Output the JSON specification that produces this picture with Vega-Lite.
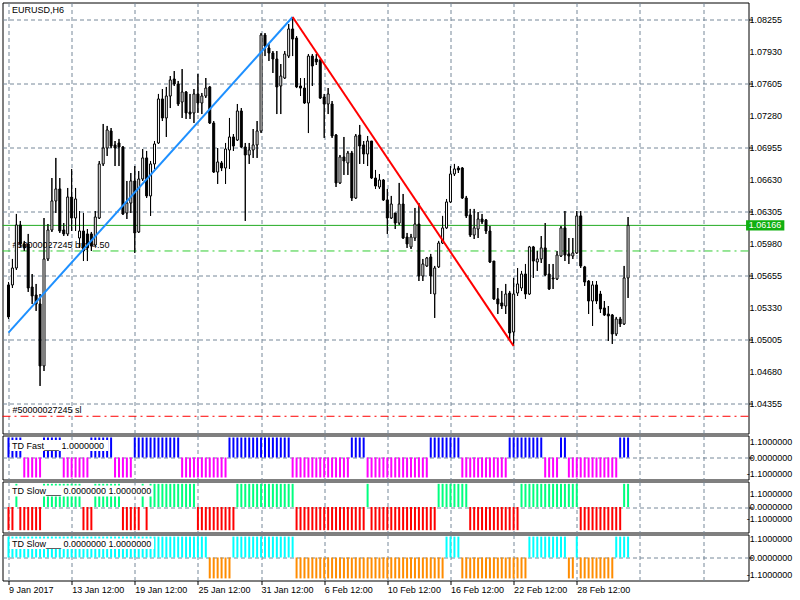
{
  "$schema": "https://vega.github.io/schema/vega-lite/v6.json",
  "background": "white",
  "padding": {"left": 1.5, "top": 1.5, "right": 0, "bottom": 0},
  "spacing": 2,
  "bounds": "flush",
  "config": {
    "font": "Liberation Sans",
    "view": {"stroke": "black", "strokeWidth": 1},
    "axis": {"labelFont": "Liberation Sans", "labelFontSize": 9, "labelColor": "black", "gridColor": "#778899", "gridDash": [4, 3], "gridWidth": 1, "gridOpacity": 1, "tickColor": "black", "domain": false, "title": null, "labelOverlap": false, "labelBound": false},
    "text": {"font": "Liberation Sans", "fontSize": 9}
  },
  "datasets": {
    "candles": [
      {"i":0,"o":1.05561,"h":1.05591,"l":1.05215,"c":1.05236},
      {"i":1,"o":1.05561,"h":1.05825,"l":1.05530,"c":1.05733},
      {"i":2,"o":1.05733,"h":1.06282,"l":1.05713,"c":1.06170},
      {"i":3,"o":1.06170,"h":1.06211,"l":1.05947,"c":1.05977},
      {"i":4,"o":1.05977,"h":1.06008,"l":1.05906,"c":1.05937},
      {"i":5,"o":1.05977,"h":1.06079,"l":1.05490,"c":1.05530},
      {"i":6,"o":1.05540,"h":1.05672,"l":1.05368,"c":1.05449},
      {"i":7,"o":1.05459,"h":1.05571,"l":1.05297,"c":1.05368},
      {"i":8,"o":1.05368,"h":1.05469,"l":1.04535,"c":1.04738},
      {"i":9,"o":1.04738,"h":1.06241,"l":1.04687,"c":1.05825},
      {"i":10,"o":1.05825,"h":1.06180,"l":1.05804,"c":1.06119},
      {"i":11,"o":1.06119,"h":1.06647,"l":1.06099,"c":1.06414},
      {"i":12,"o":1.06414,"h":1.06851,"l":1.06292,"c":1.06536},
      {"i":13,"o":1.06536,"h":1.06647,"l":1.06089,"c":1.06109},
      {"i":14,"o":1.06119,"h":1.06190,"l":1.06058,"c":1.06079},
      {"i":15,"o":1.06079,"h":1.06546,"l":1.06058,"c":1.06454},
      {"i":16,"o":1.06454,"h":1.06739,"l":1.06109,"c":1.06241},
      {"i":17,"o":1.06241,"h":1.06546,"l":1.06109,"c":1.06434},
      {"i":18,"o":1.06038,"h":1.06312,"l":1.05937,"c":1.06109},
      {"i":19,"o":1.06109,"h":1.06292,"l":1.05804,"c":1.05906},
      {"i":20,"o":1.06079,"h":1.06129,"l":1.05804,"c":1.05937},
      {"i":21,"o":1.06079,"h":1.06099,"l":1.05906,"c":1.05957},
      {"i":22,"o":1.05967,"h":1.06312,"l":1.05957,"c":1.06251},
      {"i":23,"o":1.06241,"h":1.06820,"l":1.06231,"c":1.06790},
      {"i":24,"o":1.06790,"h":1.07196,"l":1.06769,"c":1.06952},
      {"i":25,"o":1.06952,"h":1.07176,"l":1.06871,"c":1.07135},
      {"i":26,"o":1.07125,"h":1.07155,"l":1.06952,"c":1.06972},
      {"i":27,"o":1.06983,"h":1.07023,"l":1.06769,"c":1.06952},
      {"i":28,"o":1.07003,"h":1.07044,"l":1.06769,"c":1.06962},
      {"i":29,"o":1.06962,"h":1.06972,"l":1.06272,"c":1.06282},
      {"i":30,"o":1.06292,"h":1.06617,"l":1.06231,"c":1.06393},
      {"i":31,"o":1.06393,"h":1.06698,"l":1.06292,"c":1.06617},
      {"i":32,"o":1.06617,"h":1.06769,"l":1.05886,"c":1.06089},
      {"i":33,"o":1.06099,"h":1.06718,"l":1.06089,"c":1.06637},
      {"i":34,"o":1.06637,"h":1.06942,"l":1.06617,"c":1.06851},
      {"i":35,"o":1.06851,"h":1.06922,"l":1.06444,"c":1.06465},
      {"i":36,"o":1.06465,"h":1.06820,"l":1.06262,"c":1.06790},
      {"i":37,"o":1.06790,"h":1.07023,"l":1.06739,"c":1.06993},
      {"i":38,"o":1.07003,"h":1.07501,"l":1.06993,"c":1.07450},
      {"i":39,"o":1.07450,"h":1.07551,"l":1.07226,"c":1.07257},
      {"i":40,"o":1.07257,"h":1.07572,"l":1.07064,"c":1.07480},
      {"i":41,"o":1.07480,"h":1.07683,"l":1.07358,"c":1.07643},
      {"i":42,"o":1.07653,"h":1.07734,"l":1.07582,"c":1.07602},
      {"i":43,"o":1.07602,"h":1.07633,"l":1.07379,"c":1.07399},
      {"i":44,"o":1.07419,"h":1.07754,"l":1.07257,"c":1.07521},
      {"i":45,"o":1.07521,"h":1.07531,"l":1.07247,"c":1.07308},
      {"i":46,"o":1.07318,"h":1.07501,"l":1.07247,"c":1.07297},
      {"i":47,"o":1.07308,"h":1.07551,"l":1.07206,"c":1.07501},
      {"i":48,"o":1.07501,"h":1.07704,"l":1.07308,"c":1.07409},
      {"i":49,"o":1.07409,"h":1.07511,"l":1.07297,"c":1.07480},
      {"i":50,"o":1.07480,"h":1.07663,"l":1.07460,"c":1.07561},
      {"i":51,"o":1.07572,"h":1.07582,"l":1.07196,"c":1.07206},
      {"i":52,"o":1.07206,"h":1.07226,"l":1.06698,"c":1.06708},
      {"i":53,"o":1.06708,"h":1.06952,"l":1.06587,"c":1.06810},
      {"i":54,"o":1.06800,"h":1.06820,"l":1.06718,"c":1.06749},
      {"i":55,"o":1.06749,"h":1.07003,"l":1.06587,"c":1.06942},
      {"i":56,"o":1.06932,"h":1.07257,"l":1.06739,"c":1.07064},
      {"i":57,"o":1.07064,"h":1.07094,"l":1.06922,"c":1.06972},
      {"i":58,"o":1.07033,"h":1.07399,"l":1.07023,"c":1.07328},
      {"i":59,"o":1.07328,"h":1.07358,"l":1.06952,"c":1.06962},
      {"i":60,"o":1.06962,"h":1.07003,"l":1.06211,"c":1.06881},
      {"i":61,"o":1.06881,"h":1.07003,"l":1.06790,"c":1.06932},
      {"i":62,"o":1.06932,"h":1.07145,"l":1.06851,"c":1.06983},
      {"i":63,"o":1.06983,"h":1.07226,"l":1.06851,"c":1.07125},
      {"i":64,"o":1.07125,"h":1.08120,"l":1.07104,"c":1.08100},
      {"i":65,"o":1.08100,"h":1.08120,"l":1.07886,"c":1.07988},
      {"i":66,"o":1.07968,"h":1.08008,"l":1.07836,"c":1.07917},
      {"i":67,"o":1.07917,"h":1.07937,"l":1.07714,"c":1.07856},
      {"i":68,"o":1.07856,"h":1.07937,"l":1.07297,"c":1.07572},
      {"i":69,"o":1.07582,"h":1.07805,"l":1.07297,"c":1.07683},
      {"i":70,"o":1.07663,"h":1.07937,"l":1.07653,"c":1.07907},
      {"i":71,"o":1.07886,"h":1.08211,"l":1.07866,"c":1.08161},
      {"i":72,"o":1.08161,"h":1.08283,"l":1.07886,"c":1.08059},
      {"i":73,"o":1.08069,"h":1.08089,"l":1.07561,"c":1.07572},
      {"i":74,"o":1.07582,"h":1.07663,"l":1.07480,"c":1.07561},
      {"i":75,"o":1.07561,"h":1.07663,"l":1.07399,"c":1.07409},
      {"i":76,"o":1.07409,"h":1.07907,"l":1.07104,"c":1.07886},
      {"i":77,"o":1.07886,"h":1.07907,"l":1.07582,"c":1.07785},
      {"i":78,"o":1.07856,"h":1.07907,"l":1.07795,"c":1.07826},
      {"i":79,"o":1.07846,"h":1.07856,"l":1.07450,"c":1.07460},
      {"i":80,"o":1.07470,"h":1.07501,"l":1.07054,"c":1.07399},
      {"i":81,"o":1.07399,"h":1.07561,"l":1.07297,"c":1.07501},
      {"i":82,"o":1.07399,"h":1.07429,"l":1.07054,"c":1.07074},
      {"i":83,"o":1.07084,"h":1.07094,"l":1.06556,"c":1.06597},
      {"i":84,"o":1.06597,"h":1.06881,"l":1.06587,"c":1.06861},
      {"i":85,"o":1.06861,"h":1.07064,"l":1.06678,"c":1.06820},
      {"i":86,"o":1.06800,"h":1.06922,"l":1.06678,"c":1.06901},
      {"i":87,"o":1.06901,"h":1.06922,"l":1.06414,"c":1.06444},
      {"i":88,"o":1.06444,"h":1.07094,"l":1.06434,"c":1.07074},
      {"i":89,"o":1.07084,"h":1.07186,"l":1.06790,"c":1.06972},
      {"i":90,"o":1.06983,"h":1.07023,"l":1.06790,"c":1.06891},
      {"i":91,"o":1.06891,"h":1.07074,"l":1.06769,"c":1.07023},
      {"i":92,"o":1.07023,"h":1.07023,"l":1.06637,"c":1.06647},
      {"i":93,"o":1.06647,"h":1.06729,"l":1.06536,"c":1.06566},
      {"i":94,"o":1.06556,"h":1.06688,"l":1.06536,"c":1.06627},
      {"i":95,"o":1.06627,"h":1.06637,"l":1.06414,"c":1.06424},
      {"i":96,"o":1.06424,"h":1.06536,"l":1.06079,"c":1.06241},
      {"i":97,"o":1.06241,"h":1.06465,"l":1.06231,"c":1.06383},
      {"i":98,"o":1.06292,"h":1.06292,"l":1.06129,"c":1.06190},
      {"i":99,"o":1.06190,"h":1.06597,"l":1.06170,"c":1.06383},
      {"i":100,"o":1.06383,"h":1.06485,"l":1.06028,"c":1.06038},
      {"i":101,"o":1.06048,"h":1.06089,"l":1.05937,"c":1.05977},
      {"i":102,"o":1.05947,"h":1.06079,"l":1.05926,"c":1.06048},
      {"i":103,"o":1.06038,"h":1.06343,"l":1.06008,"c":1.06180},
      {"i":104,"o":1.06180,"h":1.06393,"l":1.05601,"c":1.05652},
      {"i":105,"o":1.05652,"h":1.05825,"l":1.05601,"c":1.05774},
      {"i":106,"o":1.05754,"h":1.05845,"l":1.05744,"c":1.05835},
      {"i":107,"o":1.05845,"h":1.05876,"l":1.05469,"c":1.05652},
      {"i":108,"o":1.05469,"h":1.05754,"l":1.05226,"c":1.05733},
      {"i":109,"o":1.05744,"h":1.06008,"l":1.05733,"c":1.05987},
      {"i":110,"o":1.05987,"h":1.06262,"l":1.05977,"c":1.06140},
      {"i":111,"o":1.06140,"h":1.06434,"l":1.06129,"c":1.06404},
      {"i":112,"o":1.06404,"h":1.06769,"l":1.06393,"c":1.06688},
      {"i":113,"o":1.06688,"h":1.06790,"l":1.06668,"c":1.06739},
      {"i":114,"o":1.06749,"h":1.06769,"l":1.06698,"c":1.06729},
      {"i":115,"o":1.06749,"h":1.06759,"l":1.06434,"c":1.06444},
      {"i":116,"o":1.06444,"h":1.06465,"l":1.06241,"c":1.06262},
      {"i":117,"o":1.06272,"h":1.06333,"l":1.06048,"c":1.06068},
      {"i":118,"o":1.06068,"h":1.06333,"l":1.06028,"c":1.06140},
      {"i":119,"o":1.06129,"h":1.06302,"l":1.06038,"c":1.06231},
      {"i":120,"o":1.06231,"h":1.06282,"l":1.06180,"c":1.06201},
      {"i":121,"o":1.06221,"h":1.06231,"l":1.06079,"c":1.06109},
      {"i":122,"o":1.06109,"h":1.06160,"l":1.05784,"c":1.05794},
      {"i":123,"o":1.05804,"h":1.05804,"l":1.05409,"c":1.05419},
      {"i":124,"o":1.05419,"h":1.05530,"l":1.05266,"c":1.05368},
      {"i":125,"o":1.05378,"h":1.05500,"l":1.05317,"c":1.05347},
      {"i":126,"o":1.05347,"h":1.05571,"l":1.05266,"c":1.05469},
      {"i":127,"o":1.05479,"h":1.05500,"l":1.04992,"c":1.05073},
      {"i":128,"o":1.05083,"h":1.05632,"l":1.04941,"c":1.05469},
      {"i":129,"o":1.05479,"h":1.05733,"l":1.05449,"c":1.05571},
      {"i":130,"o":1.05530,"h":1.05703,"l":1.05500,"c":1.05672},
      {"i":131,"o":1.05672,"h":1.05774,"l":1.05419,"c":1.05469},
      {"i":132,"o":1.05469,"h":1.05957,"l":1.05459,"c":1.05947},
      {"i":133,"o":1.05947,"h":1.05957,"l":1.05632,"c":1.05804},
      {"i":134,"o":1.05794,"h":1.05906,"l":1.05703,"c":1.05825},
      {"i":135,"o":1.05825,"h":1.06058,"l":1.05784,"c":1.05937},
      {"i":136,"o":1.05937,"h":1.06190,"l":1.05652,"c":1.05662},
      {"i":137,"o":1.05672,"h":1.05774,"l":1.05510,"c":1.05520},
      {"i":138,"o":1.05632,"h":1.05774,"l":1.05520,"c":1.05622},
      {"i":139,"o":1.05622,"h":1.05906,"l":1.05611,"c":1.05865},
      {"i":140,"o":1.05855,"h":1.06160,"l":1.05845,"c":1.06140},
      {"i":141,"o":1.06140,"h":1.06312,"l":1.05804,"c":1.05865},
      {"i":142,"o":1.05876,"h":1.06038,"l":1.05774,"c":1.05855},
      {"i":143,"o":1.05855,"h":1.06038,"l":1.05825,"c":1.05886},
      {"i":144,"o":1.05886,"h":1.06312,"l":1.05876,"c":1.06262},
      {"i":145,"o":1.06262,"h":1.06312,"l":1.05733,"c":1.05754},
      {"i":146,"o":1.05744,"h":1.05754,"l":1.05551,"c":1.05591},
      {"i":147,"o":1.05601,"h":1.05611,"l":1.05266,"c":1.05398},
      {"i":148,"o":1.05398,"h":1.05601,"l":1.05144,"c":1.05561},
      {"i":149,"o":1.05561,"h":1.05601,"l":1.05368,"c":1.05398},
      {"i":150,"o":1.05469,"h":1.05500,"l":1.05276,"c":1.05317},
      {"i":151,"o":1.05327,"h":1.05398,"l":1.05246,"c":1.05256},
      {"i":152,"o":1.05266,"h":1.05347,"l":1.04992,"c":1.05246},
      {"i":153,"o":1.05256,"h":1.05266,"l":1.04962,"c":1.05063},
      {"i":154,"o":1.05063,"h":1.05236,"l":1.05043,"c":1.05215},
      {"i":155,"o":1.05215,"h":1.05236,"l":1.05134,"c":1.05165},
      {"i":156,"o":1.05165,"h":1.05754,"l":1.05154,"c":1.05632},
      {"i":157,"o":1.05632,"h":1.06251,"l":1.05429,"c":1.06166}
    ],
    "td": [
      {"i":0,"a":1,"b":-1,"c":1},{"i":1,"a":1,"b":-1,"c":1},{"i":2,"a":1,"b":1,"c":1},{"i":3,"a":1,"b":-1,"c":1},
      {"i":4,"a":-1,"b":-1,"c":1},{"i":5,"a":-1,"b":-1,"c":1},{"i":6,"a":-1,"b":-1,"c":1},{"i":7,"a":-1,"b":-1,"c":1},
      {"i":8,"a":-1,"b":-1,"c":1},{"i":9,"a":1,"b":1,"c":1},{"i":10,"a":1,"b":1,"c":1},{"i":11,"a":1,"b":1,"c":1},
      {"i":12,"a":1,"b":1,"c":1},{"i":13,"a":1,"b":1,"c":1},{"i":14,"a":-1,"b":1,"c":1},{"i":15,"a":-1,"b":1,"c":1},
      {"i":16,"a":-1,"b":1,"c":1},{"i":17,"a":-1,"b":1,"c":1},{"i":18,"a":-1,"b":1,"c":1},{"i":19,"a":-1,"b":-1,"c":1},
      {"i":20,"a":-1,"b":-1,"c":1},{"i":21,"a":1,"b":-1,"c":1},{"i":22,"a":1,"b":1,"c":1},{"i":23,"a":1,"b":1,"c":1},
      {"i":24,"a":1,"b":1,"c":1},{"i":25,"a":1,"b":1,"c":1},{"i":26,"a":1,"b":1,"c":1},{"i":27,"a":-1,"b":1,"c":1},
      {"i":28,"a":-1,"b":1,"c":1},{"i":29,"a":-1,"b":-1,"c":1},{"i":30,"a":-1,"b":-1,"c":1},{"i":31,"a":-1,"b":-1,"c":1},
      {"i":32,"a":1,"b":-1,"c":1},{"i":33,"a":1,"b":-1,"c":1},{"i":34,"a":1,"b":1,"c":1},{"i":35,"a":1,"b":-1,"c":1},
      {"i":36,"a":1,"b":1,"c":1},{"i":37,"a":1,"b":1,"c":1},{"i":38,"a":1,"b":1,"c":1},{"i":39,"a":1,"b":1,"c":1},
      {"i":40,"a":1,"b":1,"c":1},{"i":41,"a":1,"b":1,"c":1},{"i":42,"a":1,"b":1,"c":1},{"i":43,"a":1,"b":1,"c":1},
      {"i":44,"a":-1,"b":1,"c":1},{"i":45,"a":-1,"b":1,"c":1},{"i":46,"a":-1,"b":1,"c":1},{"i":47,"a":-1,"b":1,"c":1},
      {"i":48,"a":-1,"b":-1,"c":1},{"i":49,"a":-1,"b":-1,"c":1},{"i":50,"a":-1,"b":-1,"c":1},{"i":51,"a":-1,"b":-1,"c":-1},
      {"i":52,"a":-1,"b":-1,"c":-1},{"i":53,"a":-1,"b":-1,"c":-1},{"i":54,"a":-1,"b":-1,"c":-1},{"i":55,"a":-1,"b":-1,"c":-1},
      {"i":56,"a":1,"b":-1,"c":-1},{"i":57,"a":1,"b":-1,"c":1},{"i":58,"a":1,"b":1,"c":1},{"i":59,"a":1,"b":1,"c":1},
      {"i":60,"a":1,"b":1,"c":1},{"i":61,"a":1,"b":1,"c":1},{"i":62,"a":1,"b":1,"c":1},{"i":63,"a":1,"b":1,"c":1},
      {"i":64,"a":1,"b":1,"c":1},{"i":65,"a":1,"b":1,"c":1},{"i":66,"a":1,"b":1,"c":1},{"i":67,"a":1,"b":1,"c":1},
      {"i":68,"a":1,"b":1,"c":1},{"i":69,"a":1,"b":1,"c":1},{"i":70,"a":1,"b":1,"c":1},{"i":71,"a":1,"b":1,"c":1},
      {"i":72,"a":-1,"b":1,"c":1},{"i":73,"a":-1,"b":-1,"c":-1},{"i":74,"a":-1,"b":-1,"c":-1},{"i":75,"a":-1,"b":-1,"c":-1},
      {"i":76,"a":-1,"b":-1,"c":-1},{"i":77,"a":-1,"b":-1,"c":-1},{"i":78,"a":-1,"b":-1,"c":-1},{"i":79,"a":-1,"b":-1,"c":-1},
      {"i":80,"a":-1,"b":-1,"c":-1},{"i":81,"a":-1,"b":-1,"c":-1},{"i":82,"a":-1,"b":-1,"c":-1},{"i":83,"a":-1,"b":-1,"c":-1},
      {"i":84,"a":-1,"b":-1,"c":-1},{"i":85,"a":-1,"b":-1,"c":-1},{"i":86,"a":-1,"b":-1,"c":-1},{"i":87,"a":1,"b":-1,"c":-1},
      {"i":88,"a":1,"b":-1,"c":-1},{"i":89,"a":1,"b":-1,"c":-1},{"i":90,"a":1,"b":-1,"c":-1},{"i":91,"a":-1,"b":1,"c":-1},
      {"i":92,"a":-1,"b":-1,"c":-1},{"i":93,"a":-1,"b":-1,"c":-1},{"i":94,"a":-1,"b":-1,"c":-1},{"i":95,"a":-1,"b":-1,"c":-1},
      {"i":96,"a":-1,"b":-1,"c":-1},{"i":97,"a":-1,"b":-1,"c":-1},{"i":98,"a":-1,"b":-1,"c":-1},{"i":99,"a":-1,"b":-1,"c":-1},
      {"i":100,"a":-1,"b":-1,"c":-1},{"i":101,"a":-1,"b":-1,"c":-1},{"i":102,"a":-1,"b":-1,"c":-1},{"i":103,"a":-1,"b":-1,"c":-1},
      {"i":104,"a":-1,"b":-1,"c":-1},{"i":105,"a":-1,"b":-1,"c":-1},{"i":106,"a":-1,"b":-1,"c":-1},{"i":107,"a":1,"b":-1,"c":-1},
      {"i":108,"a":1,"b":-1,"c":-1},{"i":109,"a":1,"b":1,"c":-1},{"i":110,"a":1,"b":1,"c":-1},{"i":111,"a":1,"b":1,"c":1},
      {"i":112,"a":1,"b":1,"c":1},{"i":113,"a":1,"b":1,"c":1},{"i":114,"a":1,"b":1,"c":1},{"i":115,"a":-1,"b":1,"c":-1},
      {"i":116,"a":-1,"b":1,"c":-1},{"i":117,"a":-1,"b":-1,"c":-1},{"i":118,"a":-1,"b":-1,"c":-1},{"i":119,"a":-1,"b":-1,"c":-1},
      {"i":120,"a":-1,"b":-1,"c":-1},{"i":121,"a":-1,"b":-1,"c":-1},{"i":122,"a":-1,"b":-1,"c":-1},{"i":123,"a":-1,"b":-1,"c":-1},
      {"i":124,"a":-1,"b":-1,"c":-1},{"i":125,"a":-1,"b":-1,"c":-1},{"i":126,"a":-1,"b":-1,"c":-1},{"i":127,"a":1,"b":-1,"c":-1},
      {"i":128,"a":1,"b":-1,"c":-1},{"i":129,"a":1,"b":-1,"c":-1},{"i":130,"a":1,"b":1,"c":-1},{"i":131,"a":1,"b":1,"c":-1},
      {"i":132,"a":1,"b":1,"c":1},{"i":133,"a":1,"b":1,"c":1},{"i":134,"a":1,"b":1,"c":1},{"i":135,"a":1,"b":1,"c":1},
      {"i":136,"a":-1,"b":1,"c":1},{"i":137,"a":-1,"b":1,"c":1},{"i":138,"a":-1,"b":1,"c":1},{"i":139,"a":-1,"b":1,"c":1},
      {"i":140,"a":1,"b":1,"c":1},{"i":141,"a":1,"b":1,"c":1},{"i":142,"a":-1,"b":1,"c":-1},{"i":143,"a":-1,"b":1,"c":-1},
      {"i":144,"a":-1,"b":1,"c":1},{"i":145,"a":-1,"b":-1,"c":-1},{"i":146,"a":-1,"b":-1,"c":-1},{"i":147,"a":-1,"b":-1,"c":-1},
      {"i":148,"a":-1,"b":-1,"c":-1},{"i":149,"a":-1,"b":-1,"c":-1},{"i":150,"a":-1,"b":-1,"c":-1},{"i":151,"a":-1,"b":-1,"c":-1},
      {"i":152,"a":-1,"b":-1,"c":-1},{"i":153,"a":-1,"b":-1,"c":-1},{"i":154,"a":-1,"b":-1,"c":1},{"i":155,"a":1,"b":-1,"c":1},
      {"i":156,"a":1,"b":1,"c":1},{"i":157,"a":1,"b":1,"c":1}
    ],
    "trend": [
      {"g":"up","i":0,"p":1.05076},
      {"g":"up","i":72,"p":1.08283},
      {"g":"down","i":72,"p":1.08283},
      {"g":"down","i":128,"p":1.04941}
    ],
    "levels": [
      {"v":1.04355},{"v":1.0468},{"v":1.05005},{"v":1.0533},{"v":1.05655},{"v":1.0598},{"v":1.06305},
      {"v":1.0663},{"v":1.06955},{"v":1.0728},{"v":1.07605},{"v":1.0793},{"v":1.08255}
    ]
  },
  "vconcat": [
    {
      "width": 746,
      "height": 431,
      "layer": [
        {
          "data": {"name": "candles"},
          "mark": {"type": "rule", "color": "black", "strokeWidth": 1},
          "encoding": {
            "x": {"field": "i", "type": "quantitative", "scale": {"domain": [-0.25, 186.25], "nice": false, "zero": false},
                  "axis": {"values": [0,8,16,24,32,40,48,56,64,72,80,88,96,104,112,120,128,136,144,152,160,168,176,184], "grid": true, "labels": false, "ticks": false}},
            "y": {"field": "l", "type": "quantitative", "scale": {"domain": [1.04052, 1.0843], "nice": false, "zero": false},
                  "axis": {"orient": "right", "values": [1.04355,1.0468,1.05005,1.0533,1.05655,1.0598,1.06305,1.0663,1.06955,1.0728,1.07605,1.0793,1.08255], "grid": true, "tickSize": 4, "labels": false}},
            "y2": {"field": "h"}
          }
        },
        {
          "data": {"name": "levels"},
          "mark": {"type": "text", "align": "left", "baseline": "middle", "color": "black"},
          "encoding": {
            "x": {"datum": 187.75, "type": "quantitative"},
            "y": {"field": "v", "type": "quantitative"},
            "text": {"field": "v", "type": "quantitative", "format": ".5f"}
          }
        },
        {
          "data": {"values": [{}]},
          "mark": {"type": "text", "align": "left", "baseline": "bottom", "dy": -1, "color": "black"},
          "encoding": {"x": {"datum": 1.0, "type": "quantitative"}, "y": {"datum": 1.05906, "type": "quantitative"}, "text": {"value": "#50000027245 buy 4.50"}}
        },
        {
          "data": {"values": [{}]},
          "mark": {"type": "text", "align": "left", "baseline": "bottom", "dy": -1, "color": "black"},
          "encoding": {"x": {"datum": 1.0, "type": "quantitative"}, "y": {"datum": 1.04227, "type": "quantitative"}, "text": {"value": "#50000027245 sl"}}
        },
        {
          "data": {"values": [{}]},
          "mark": {"type": "rule", "color": "#32CD32", "strokeWidth": 1, "strokeDash": [8, 4, 2, 4]},
          "encoding": {"y": {"datum": 1.05906, "type": "quantitative"}}
        },
        {
          "data": {"values": [{}]},
          "mark": {"type": "rule", "color": "#FF0000", "strokeWidth": 1, "strokeDash": [8, 4, 2, 4]},
          "encoding": {"y": {"datum": 1.04227, "type": "quantitative"}}
        },
        {
          "data": {"values": [{}]},
          "mark": {"type": "rule", "color": "#22AA22", "strokeWidth": 1},
          "encoding": {"y": {"datum": 1.06166, "type": "quantitative"}}
        },
        {
          "data": {"name": "candles"},
          "mark": {"type": "rule", "color": "black", "strokeWidth": 1},
          "encoding": {
            "x": {"field": "i", "type": "quantitative"},
            "y": {"field": "l", "type": "quantitative"},
            "y2": {"field": "h"}
          }
        },
        {
          "data": {"name": "candles"},
          "mark": {"type": "bar", "size": 2, "stroke": "black", "strokeWidth": 1},
          "encoding": {
            "x": {"field": "i", "type": "quantitative"},
            "y": {"field": "o", "type": "quantitative"},
            "y2": {"field": "c"},
            "fill": {"condition": {"test": "datum.c >= datum.o", "value": "#FFFFFF"}, "value": "#000000"}
          }
        },
        {
          "data": {"name": "trend"},
          "mark": {"type": "line", "strokeWidth": 2},
          "encoding": {
            "x": {"field": "i", "type": "quantitative"},
            "y": {"field": "p", "type": "quantitative"},
            "color": {"field": "g", "type": "nominal", "scale": {"domain": ["up", "down"], "range": ["#1E90FF", "#FF0000"]}, "legend": null}
          }
        },
        {
          "data": {"values": [{}]},
          "mark": {"type": "text", "align": "left", "baseline": "top", "dy": 3.5, "color": "black"},
          "encoding": {"x": {"datum": 0.9, "type": "quantitative"}, "y": {"datum": 1.0843, "type": "quantitative"}, "text": {"value": "EURUSD,H6"}}
        },
        {
          "data": {"values": [{}]},
          "mark": {"type": "rect", "color": "#11B011"},
          "encoding": {"x": {"datum": 186.9, "type": "quantitative"}, "x2": {"datum": 196.6}, "y": {"datum": 1.06217, "type": "quantitative"}, "y2": {"datum": 1.06115}}
        },
        {
          "data": {"values": [{}]},
          "mark": {"type": "text", "align": "left", "baseline": "middle", "color": "white"},
          "encoding": {"x": {"datum": 187.6, "type": "quantitative"}, "y": {"datum": 1.06166, "type": "quantitative"}, "text": {"value": "1.06166"}}
        }
      ]
    },
    {
      "width": 746,
      "height": 44,
      "layer": [
        {
          "data": {"name": "td"},
          "mark": {"type": "bar", "size": 2},
          "encoding": {
            "x": {"field": "i", "type": "quantitative", "scale": {"domain": [-0.25, 186.25], "nice": false, "zero": false},
                  "axis": {"values": [0,8,16,24,32,40,48,56,64,72,80,88,96,104,112,120,128,136,144,152,160,168,176,184], "grid": true, "labels": false, "ticks": false}},
            "y": {"field": "a", "type": "quantitative", "scale": {"domain": [-1.1, 1.1], "nice": false, "zero": false},
                  "axis": {"orient": "right", "values": [0], "grid": true, "tickSize": 4, "labels": false}},
            "y2": {"datum": 0},
            "color": {"condition": {"test": "datum.a > 0", "value": "#0000FF"}, "value": "#FF00FF"}
          }
        },
        {
          "data": {"values": [{}]},
          "mark": {"type": "rect", "color": "white"},
          "encoding": {"x": {"datum": 0.6, "type": "quantitative"}, "x2": {"datum": 25.3}, "y": {"datum": 0.875, "type": "quantitative"}, "y2": {"datum": 0.325}}
        },
        {
          "data": {"values": [{}]},
          "mark": {"type": "text", "align": "left", "baseline": "middle", "color": "black"},
          "encoding": {"x": {"datum": 0.9, "type": "quantitative"}, "y": {"datum": 0.6, "type": "quantitative"}, "text": {"value": "TD Fast___ 1.0000000"}}
        },
        {
          "data": {"values": [{}]},
          "mark": {"type": "text", "align": "right", "baseline": "middle", "dy": 6.5, "color": "black"},
          "encoding": {"x": {"datum": 198.6, "type": "quantitative"}, "y": {"datum": 1.1, "type": "quantitative"}, "text": {"value": "1.1000000"}}
        },
        {
          "data": {"values": [{}]},
          "mark": {"type": "text", "align": "right", "baseline": "middle", "color": "black"},
          "encoding": {"x": {"datum": 198.6, "type": "quantitative"}, "y": {"datum": 0, "type": "quantitative"}, "text": {"value": "0.0000000"}}
        },
        {
          "data": {"values": [{}]},
          "mark": {"type": "text", "align": "right", "baseline": "middle", "dy": -5.8, "color": "black"},
          "encoding": {"x": {"datum": 198.6, "type": "quantitative"}, "y": {"datum": -1.1, "type": "quantitative"}, "text": {"value": "-1.1000000"}}
        }
      ]
    },
    {
      "width": 746,
      "height": 51,
      "layer": [
        {
          "data": {"name": "td"},
          "mark": {"type": "bar", "size": 2},
          "encoding": {
            "x": {"field": "i", "type": "quantitative", "scale": {"domain": [-0.25, 186.25], "nice": false, "zero": false},
                  "axis": {"values": [0,8,16,24,32,40,48,56,64,72,80,88,96,104,112,120,128,136,144,152,160,168,176,184], "grid": true, "labels": false, "ticks": false}},
            "y": {"field": "b", "type": "quantitative", "scale": {"domain": [-1.1, 1.1], "nice": false, "zero": false},
                  "axis": {"orient": "right", "values": [0], "grid": true, "tickSize": 4, "labels": false}},
            "y2": {"datum": 0},
            "color": {"condition": {"test": "datum.b > 0", "value": "#00FF7F"}, "value": "#FF0000"}
          }
        },
        {
          "data": {"values": [{}]},
          "mark": {"type": "rect", "color": "white"},
          "encoding": {"x": {"datum": 0.6, "type": "quantitative"}, "x2": {"datum": 36.6}, "y": {"datum": 0.927, "type": "quantitative"}, "y2": {"datum": 0.453}}
        },
        {
          "data": {"values": [{}]},
          "mark": {"type": "text", "align": "left", "baseline": "middle", "color": "black"},
          "encoding": {"x": {"datum": 0.9, "type": "quantitative"}, "y": {"datum": 0.69, "type": "quantitative"}, "text": {"value": "TD Slow___ 0.0000000 1.0000000"}}
        },
        {
          "data": {"values": [{}]},
          "mark": {"type": "text", "align": "right", "baseline": "middle", "dy": 12.2, "color": "black"},
          "encoding": {"x": {"datum": 198.6, "type": "quantitative"}, "y": {"datum": 1.1, "type": "quantitative"}, "text": {"value": "1.1000000"}}
        },
        {
          "data": {"values": [{}]},
          "mark": {"type": "text", "align": "right", "baseline": "middle", "color": "black"},
          "encoding": {"x": {"datum": 198.6, "type": "quantitative"}, "y": {"datum": 0, "type": "quantitative"}, "text": {"value": "0.0000000"}}
        },
        {
          "data": {"values": [{}]},
          "mark": {"type": "text", "align": "right", "baseline": "middle", "dy": -14, "color": "black"},
          "encoding": {"x": {"datum": 198.6, "type": "quantitative"}, "y": {"datum": -1.1, "type": "quantitative"}, "text": {"value": "-1.1000000"}}
        }
      ]
    },
    {
      "width": 746,
      "height": 46,
      "layer": [
        {
          "data": {"name": "td"},
          "mark": {"type": "bar", "size": 2},
          "encoding": {
            "x": {"field": "i", "type": "quantitative", "scale": {"domain": [-0.25, 186.25], "nice": false, "zero": false},
                  "axis": {"values": [0,8,16,24,32,40,48,56,64,72,80,88,96,104,112,120,128,136,144,152,160,168,176,184], "grid": true, "ticks": true, "tickSize": 4,
                           "tickOpacity": {"condition": {"test": "datum.value % 16 === 0 && datum.value <= 144", "value": 1}, "value": 0},
                           "labelAlign": "left", "labelBaseline": "top", "labelPadding": 1, "labelFlush": false, "labelOverlap": false,
                           "labelExpr": "datum.value == 0 ? '9 Jan 2017' : datum.value == 16 ? '13 Jan 12:00' : datum.value == 32 ? '19 Jan 12:00' : datum.value == 48 ? '25 Jan 12:00' : datum.value == 64 ? '31 Jan 12:00' : datum.value == 80 ? '6 Feb 12:00' : datum.value == 96 ? '10 Feb 12:00' : datum.value == 112 ? '16 Feb 12:00' : datum.value == 128 ? '22 Feb 12:00' : datum.value == 144 ? '28 Feb 12:00' : ''"}},
            "y": {"field": "c", "type": "quantitative", "scale": {"domain": [-1.1, 1.1], "nice": false, "zero": false},
                  "axis": {"orient": "right", "values": [0], "grid": true, "tickSize": 4, "labels": false}},
            "y2": {"datum": 0},
            "color": {"condition": {"test": "datum.c > 0", "value": "#00FFFF"}, "value": "#FF8C00"}
          }
        },
        {
          "data": {"values": [{}]},
          "mark": {"type": "rect", "color": "white"},
          "encoding": {"x": {"datum": 0.6, "type": "quantitative"}, "x2": {"datum": 36.9}, "y": {"datum": 0.909, "type": "quantitative"}, "y2": {"datum": 0.406}}
        },
        {
          "data": {"values": [{}]},
          "mark": {"type": "text", "align": "left", "baseline": "middle", "color": "black"},
          "encoding": {"x": {"datum": 0.9, "type": "quantitative"}, "y": {"datum": 0.66, "type": "quantitative"}, "text": {"value": "TD Slow___ 0.0000000 1.0000000"}}
        },
        {
          "data": {"values": [{}]},
          "mark": {"type": "text", "align": "right", "baseline": "middle", "dy": 4.8, "color": "black"},
          "encoding": {"x": {"datum": 198.6, "type": "quantitative"}, "y": {"datum": 1.1, "type": "quantitative"}, "text": {"value": "1.1000000"}}
        },
        {
          "data": {"values": [{}]},
          "mark": {"type": "text", "align": "right", "baseline": "middle", "color": "black"},
          "encoding": {"x": {"datum": 198.6, "type": "quantitative"}, "y": {"datum": 0, "type": "quantitative"}, "text": {"value": "0.0000000"}}
        },
        {
          "data": {"values": [{}]},
          "mark": {"type": "text", "align": "right", "baseline": "middle", "dy": -5.5, "color": "black"},
          "encoding": {"x": {"datum": 198.6, "type": "quantitative"}, "y": {"datum": -1.1, "type": "quantitative"}, "text": {"value": "-1.1000000"}}
        }
      ]
    }
  ],
  "resolve": {"scale": {"x": "independent", "y": "independent", "color": "independent"}}
}
